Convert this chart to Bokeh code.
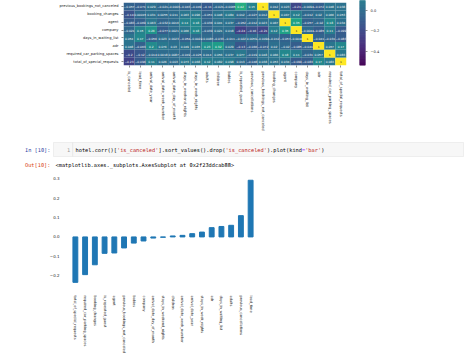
import numpy as np
from bokeh.plotting import figure
from bokeh.layouts import column, row
from bokeh.models import (ColumnDataSource, FactorRange, Range1d, FixedTicker,
                          Label, BoxAnnotation)
from bokeh.palettes import Viridis256
from bokeh.transform import linear_cmap
from bokeh.core.properties import value
from bokeh.embed import file_html
from bokeh.resources import INLINE

# ---------------- data ----------------
corr_cols = ["is_canceled", "lead_time", "arrival_date_year", "arrival_date_week_number",
             "arrival_date_day_of_month", "stays_in_weekend_nights", "stays_in_week_nights",
             "adults", "children", "babies", "is_repeated_guest", "previous_cancellations",
             "previous_bookings_not_canceled", "booking_changes", "agent", "company",
             "days_in_waiting_list", "adr", "required_car_parking_spaces",
             "total_of_special_requests"]

corr_rows = ["previous_bookings_not_canceled", "booking_changes", "agent", "company",
             "days_in_waiting_list", "adr", "required_car_parking_spaces",
             "total_of_special_requests"]

r_prev_not_canceled = [-0.057, -0.071, 0.029, -0.021, -0.0003, -0.043, -0.049, -0.11, -0.021, -0.0065,
                       0.42, 0.15, 1.0, 0.012, 0.023, -0.21, -0.0094, -0.072, 0.048, 0.038]
r_booking_changes = [-0.144, 0.00015, 0.031, 0.0055, 0.011, 0.063, 0.096, -0.051, 0.048, 0.084,
                     0.012, -0.027, 0.012, 1.0, 0.067, 0.12, -0.012, 0.02, 0.066, 0.053]
r_agent = [-0.083, -0.069, 0.063, -0.032, 0.0016, 0.14, 0.18, -0.036, 0.041, 0.037,
           -0.052, -0.012, 0.023, 0.067, 1.0, 0.35, -0.057, -0.02, 0.18, 0.034]
r_company = [-0.021, 0.15, 0.26, -0.077, 0.0021, 0.066, 0.18, -0.039, 0.021, 0.018,
             -0.24, -0.16, -0.21, 0.12, 0.35, 1.0, -0.0044, -0.085, 0.11, -0.099]
r_waiting = [0.054, 0.17, -0.056, 0.023, 0.0023, -0.054, -0.0022, -0.0087, -0.033, -0.011,
             -0.022, 0.0059, -0.0094, -0.012, -0.057, -0.0044, 1.0, -0.041, -0.031, -0.083]
r_adr = [0.048, -0.063, 0.2, 0.076, 0.03, 0.049, 0.065, 0.23, 0.32, 0.029,
         -0.13, -0.066, -0.072, 0.02, -0.02, -0.085, -0.041, 1.0, 0.057, 0.17]
r_parking = [-0.195, -0.12, -0.014, 0.0018, 0.0087, -0.019, -0.025, 0.014, 0.056, 0.037,
             0.077, -0.019, 0.048, 0.066, 0.18, 0.11, -0.031, 0.057, 1.0, 0.083]
r_special = [-0.234, -0.096, 0.11, 0.026, 0.003, 0.073, 0.068, 0.12, 0.082, 0.098,
             0.013, -0.048, 0.038, 0.053, 0.034, -0.099, -0.083, 0.17, 0.083, 1.0]
corr_values = [r_prev_not_canceled, r_booking_changes, r_agent, r_company,
               r_waiting, r_adr, r_parking, r_special]

cmap_low, cmap_high = -0.54, 1.0
cbar_ticks = [0.0, -0.2, -0.4]

bar_labels = ["total_of_special_requests", "required_car_parking_spaces", "booking_changes",
              "is_repeated_guest", "agent", "previous_bookings_not_canceled", "babies",
              "company", "arrival_date_day_of_month", "stays_in_weekend_nights", "children",
              "arrival_date_week_number", "arrival_date_year", "stays_in_week_nights", "adr",
              "days_in_waiting_list", "adults", "previous_cancellations", "lead_time"]
bar_values = [-0.235, -0.195, -0.144, -0.085, -0.083, -0.057, -0.032, -0.021, -0.006, -0.002,
              0.005, 0.008, 0.017, 0.025, 0.048, 0.054, 0.060, 0.110, 0.293]
bar_yticks = [-0.2, -0.1, 0.0, 0.1, 0.2, 0.3]

code_in_prompt = "In [10]:"
code_out_prompt = "Out[10]:"
code_segments = [("hotel.corr()[", "#000000"), ("'is_canceled'", "#BA2121"),
                 ("].sort_values().drop(", "#000000"), ("'is_canceled'", "#BA2121"),
                 (").plot(kind", "#000000"), ("=", "#AA22FF"), ("'bar'", "#BA2121"),
                 (")", "#000000")]
code_output = "<matplotlib.axes._subplots.AxesSubplot at 0x2f23ddcab88>"

FONT = "DejaVu Sans"
MONO = "DejaVu Sans Mono"
TXT = "#262626"


def minus(s):
    return s.replace("-", "\u2212")


def luminance(hexc):
    r, g, b = [int(hexc[i:i + 2], 16) / 255 for i in (1, 3, 5)]
    lin = lambda c: c / 12.92 if c <= 0.03928 else ((c + 0.055) / 1.055) ** 2.4
    return 0.2126 * lin(r) + 0.7152 * lin(g) + 0.0722 * lin(b)


# ---------------- heatmap ----------------
xs, ys, vs, ts, tcs = [], [], [], [], []
for rname, rvals in zip(corr_rows, corr_values):
    for cname, v in zip(corr_cols, rvals):
        xs.append(cname)
        ys.append(rname)
        vs.append(v)
        ts.append(minus(format(v, ".2g")))
        idx = int(round((v - cmap_low) / (cmap_high - cmap_low) * 255))
        idx = max(0, min(255, idx))
        tcs.append("#262626" if luminance(Viridis256[idx]) > 0.408 else "#ffffff")
hsrc = ColumnDataSource(dict(x=xs, y=ys, v=vs, t=ts, tc=tcs))

hm = figure(width=352, height=135, x_range=FactorRange(*corr_cols),
            y_range=FactorRange(*corr_rows[::-1]),
            min_border_left=123, min_border_right=6, min_border_top=2, min_border_bottom=70,
            output_backend="svg", toolbar_location=None, frame_align=False)
hm.rect(x="x", y="y", width=1, height=1, source=hsrc,
        fill_color=linear_cmap("v", Viridis256, cmap_low, cmap_high), line_color=None)
hm.text(x="x", y="y", text="t", text_color="tc", source=hsrc, text_font=value(FONT),
        text_font_size=value("2.9px"), text_align="center", text_baseline="middle")
hm.grid.visible = False
hm.outline_line_color = None
hm.axis.axis_line_color = None
hm.axis.major_tick_out = 2
hm.axis.major_tick_in = 0
hm.axis.major_tick_line_color = "#444444"
hm.axis.major_tick_line_width = 0.6
hm.axis.major_label_text_font = FONT
hm.axis.major_label_text_font_size = "3.6px"
hm.axis.major_label_text_color = TXT
hm.axis.major_label_standoff = 3
hm.xaxis.major_label_standoff = 4
hm.xaxis.major_label_orientation = "vertical"

# ---------------- colorbar ----------------
cb = figure(width=122, height=135, x_range=Range1d(0, 1), y_range=Range1d(cmap_low, 0.098),
            y_axis_location="right",
            min_border_left=7, min_border_right=109, min_border_top=0, min_border_bottom=70,
            output_backend="svg", toolbar_location=None, frame_align=False)
edges = np.linspace(cmap_low, cmap_high, 257)
cb.quad(left=0, right=1, bottom=edges[:-1], top=edges[1:], fill_color=list(Viridis256),
        line_color=list(Viridis256), line_width=0.5)
cb.xaxis.visible = False
cb.grid.visible = False
cb.outline_line_color = None
cb.yaxis.ticker = FixedTicker(ticks=cbar_ticks)
cb.yaxis.major_label_overrides = {t: minus(f"{t:.1f}") for t in cbar_ticks}
cb.yaxis.axis_line_color = None
cb.yaxis.minor_tick_line_color = None
cb.yaxis.major_tick_out = 2
cb.yaxis.major_tick_in = 0
cb.yaxis.major_tick_line_color = "#444444"
cb.yaxis.major_tick_line_width = 0.6
cb.yaxis.major_label_text_font = FONT
cb.yaxis.major_label_text_font_size = "3.6px"
cb.yaxis.major_label_text_color = TXT
cb.yaxis.major_label_standoff = 3

# ---------------- code cell ----------------
cf = figure(width=474, height=37, x_range=Range1d(0, 474), y_range=Range1d(37, 0),
            min_border=0, min_border_left=0, min_border_right=0, min_border_top=0,
            min_border_bottom=0, output_backend="svg", toolbar_location=None,
            frame_align=False)
cf.axis.visible = False
cf.grid.visible = False
cf.outline_line_color = None
cf.add_layout(BoxAnnotation(left=53, right=463, top=7, bottom=21, fill_color="#f7f7f7",
                            fill_alpha=1, line_color="#cfcfcf", line_width=1))
cf.add_layout(BoxAnnotation(left=72, right=72.6, top=7, bottom=21, fill_color="#dddddd",
                            fill_alpha=1, line_color=None))
cf.add_layout(Label(x=50, y=14, text=code_in_prompt, text_align="right", text_baseline="middle",
                    text_font=MONO, text_font_size="5.3px", text_color="#303F9F"))
cf.add_layout(Label(x=68, y=14, text="1", text_align="center", text_baseline="middle",
                    text_font=MONO, text_font_size="5.3px", text_color="#999999"))
cw = 3.19
pos = 75.0
for seg, col in code_segments:
    cf.add_layout(Label(x=pos, y=14, text=seg, text_align="left", text_baseline="middle",
                        text_font=MONO, text_font_size="5.3px", text_color=col))
    pos += cw * len(seg)
cf.add_layout(Label(x=50, y=29, text=code_out_prompt, text_align="right", text_baseline="middle",
                    text_font=MONO, text_font_size="5.3px", text_color="#D84315"))
cf.add_layout(Label(x=55, y=29, text=code_output, text_align="left", text_baseline="middle",
                    text_font=MONO, text_font_size="5.3px", text_color="#000000"))

# ---------------- bar chart ----------------
ylo, yhi = -0.2615, 0.3175
bsrc = ColumnDataSource(dict(label=bar_labels, value=bar_values))
bp = figure(width=474, height=183, x_range=FactorRange(*bar_labels), y_range=Range1d(ylo, yhi),
            min_border_left=70, min_border_right=219, min_border_top=3, min_border_bottom=10,
            output_backend="svg", toolbar_location=None, frame_align=False)
bp.vbar(x="label", top="value", width=0.5, source=bsrc, color="#1f77b4")
bp.grid.visible = False
bp.outline_line_color = None
bp.yaxis.ticker = FixedTicker(ticks=bar_yticks)
bp.yaxis.major_label_overrides = {t: minus(f"{t:.1f}") for t in bar_yticks}
bp.axis.axis_line_color = None
bp.axis.major_tick_line_color = None
bp.axis.minor_tick_line_color = None
bp.axis.major_label_text_font = FONT
bp.axis.major_label_text_color = TXT
bp.yaxis.major_label_text_font_size = "4px"
bp.yaxis.major_label_standoff = 5
bp.xaxis.major_label_text_font_size = "3.5px"
bp.xaxis.major_label_orientation = "vertical"
bp.xaxis.major_label_standoff = 2

layout = column(row(hm, cb), cf, bp)
open("out.html", "w").write(file_html(layout, INLINE))
